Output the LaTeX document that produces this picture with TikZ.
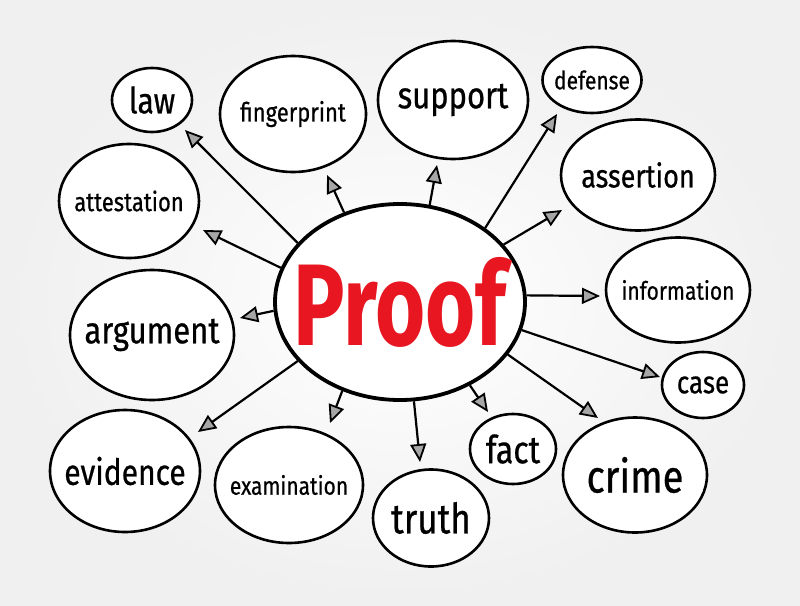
\documentclass[tikz,border=0pt]{standalone}
\usepackage{fontspec}
\setmainfont{Fira Sans}
\newfontfamily\hand{Fira Sans}[FakeBold=0.7]
\usetikzlibrary{shapes.geometric,arrows.meta}
\definecolor{proofred}{RGB}{232,22,32}
\newcommand{\fsz}[1]{\fontsize{#1}{#1}\selectfont\hand}
\newcommand{\tall}[1]{\scalebox{1}[1.2]{#1}}
\tikzset{
  bub/.style={ellipse, draw=black, line width=2.6pt, fill=white, inner sep=0pt},
  conn/.style={line width=2.2pt, -{Triangle[length=18pt,width=16pt,line width=1.8pt,fill=black!35]}},
}
\begin{document}
\begin{tikzpicture}[x=1pt,y=-1pt]
\shade[inner color=white, outer color=black!6] (0,0) rectangle (800,605);
\useasboundingbox (0,0) rectangle (800,605);

% centre
\node[bub, line width=3.8pt, minimum width=250pt, minimum height=196pt,
  label={[text=proofred, font=\fontsize{86}{86}\selectfont\bfseries]center:\scalebox{1}[1.35]{Proof}}] (proof) at (400,302) {};

% bubbles
\node[bub, minimum width=80pt,  minimum height=64pt,  label={[font=\fsz{30}]center:\tall{law}}] (law) at (152,100) {};
\node[bub, minimum width=146pt, minimum height=116pt, label={[font=\fsz{22}]center:\tall{fingerprint}}] (fingerprint) at (293,114) {};
\node[bub, minimum width=150pt, minimum height=118pt, label={[font=\fsz{31}]center:\tall{support}}] (support) at (453,100) {};
\node[bub, minimum width=99pt,  minimum height=66pt,  label={[font=\fsz{21}]center:\tall{defense}}] (defense) at (592,80) {};
\node[bub, minimum width=154pt, minimum height=111pt, label={[font=\fsz{27}]center:\tall{assertion}}] (assertion) at (638,175) {};
\node[bub, minimum width=140pt, minimum height=114pt, label={[font=\fsz{22}]center:\tall{attestation}}] (attestation) at (129,201) {};
\node[bub, minimum width=144pt, minimum height=105pt, label={[font=\fsz{21}]center:\tall{information}}] (information) at (678,290) {};
\node[bub, minimum width=164pt, minimum height=130pt, label={[font=\fsz{31}]center:\tall{argument}}] (argument) at (152,335) {};
\node[bub, minimum width=82pt,  minimum height=66pt,  label={[font=\fsz{26}]center:\tall{case}}] (case) at (703,385) {};
\node[bub, minimum width=150pt, minimum height=122pt, label={[font=\fsz{30}]center:\tall{evidence}}] (evidence) at (125,471) {};
\node[bub, minimum width=148pt, minimum height=116pt, label={[font=\fsz{21}]center:\tall{examination}}] (examination) at (289,485) {};
\node[bub, minimum width=116pt, minimum height=97pt,  label={[font=\fsz{35}]center:\tall{truth}}] (truth) at (431,518) {};
\node[bub, minimum width=86pt,  minimum height=70pt,  label={[font=\fsz{32}]center:\tall{fact}}] (fact) at (513,449) {};
\node[bub, minimum width=144pt, minimum height=115pt, label={[font=\fsz{38}]center:\tall{crime}}] (crime) at (635,475) {};

% arrow tips
\coordinate (tlaw) at (185,130);
\coordinate (tfingerprint) at (327,175);
\coordinate (tsupport) at (437,165);
\coordinate (tdefense) at (557,114);
\coordinate (tassertion) at (562,210);
\coordinate (tattestation) at (203,230);
\coordinate (tinformation) at (600,296);
\coordinate (targument) at (240,318);
\coordinate (tcase) at (660,377);
\coordinate (tcrime) at (598,418);
\coordinate (tfact) at (488,412);
\coordinate (ttruth) at (420,462);
\coordinate (texamination) at (330,423);
\coordinate (tevidence) at (198,432);

% connectors
\draw[conn] (proof.150) -- (tlaw);
\draw[conn] (proof.122) -- (tfingerprint);
\draw[conn] (proof.73) -- (tsupport);
\draw[conn] (proof.41) -- (tdefense);
\draw[conn] (proof.29) -- (tassertion);
\draw[conn] (proof.164) -- (tattestation);
\draw[conn] (proof.3) -- (tinformation);
\draw[conn] (proof.184) -- (targument);
\draw[conn] (proof.347) -- (tcase);
\draw[conn] (proof.334) -- (tcrime);
\draw[conn] (proof.310) -- (tfact);
\draw[conn] (proof.278) -- (ttruth);
\draw[conn] (proof.237) -- (texamination);
\draw[conn] (proof.210) -- (tevidence);
\end{tikzpicture}
\end{document}
